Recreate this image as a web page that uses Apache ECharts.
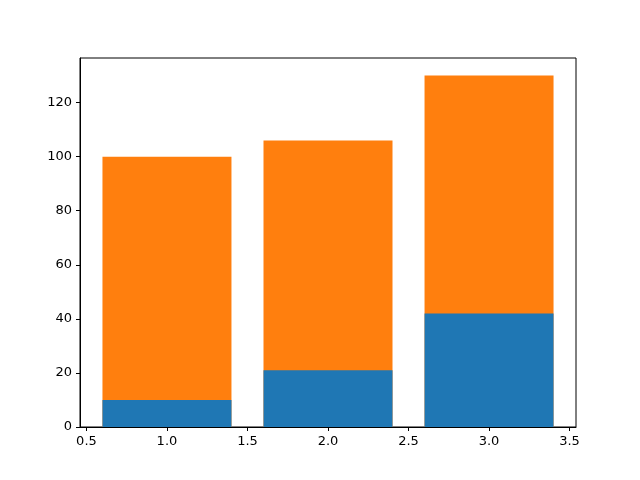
<!DOCTYPE html>
<html>
<head>
<meta charset="utf-8">
<script src="https://cdn.jsdelivr.net/npm/echarts@6/dist/echarts.min.js"></script>
<style>html,body{margin:0;padding:0;background:#fff}#chart{width:640px;height:480px}</style>
</head>
<body>
<div id="chart"></div>
<script>
const positions = [1, 2, 3];
const bottomValues = [10, 21, 42];
const topValues = [90, 85, 88];
const xTicks = [0.5, 1.0, 1.5, 2.0, 2.5, 3.0, 3.5];
const yTicks = [0, 20, 40, 60, 80, 100, 120];

const chart = echarts.init(document.getElementById('chart'));

const labelStyle = { color: '#000', fontFamily: 'DejaVu Sans', fontSize: 13, margin: 8 };
const tickStyle = { show: true, length: 4, lineStyle: { color: '#000' } };

// stacked totals for the upper segment; drawn first, lower segment painted over it
const totals = bottomValues.map((v, i) => v + topValues[i]);

chart.setOption({
  animation: false,
  grid: { left: 80, right: 64, top: 58, bottom: 53, show: true, borderColor: '#000', borderWidth: 1 },
  xAxis: {
    type: 'value', min: 0.46, max: 3.54,
    axisLine: { show: true, onZero: false, lineStyle: { color: '#000' } },
    splitLine: { show: false },
    axisTick: Object.assign({ customValues: xTicks }, tickStyle),
    axisLabel: Object.assign({ customValues: xTicks, formatter: v => v.toFixed(1) }, labelStyle)
  },
  yAxis: {
    type: 'value', min: 0, max: 136.5,
    axisLine: { show: true, onZero: false, lineStyle: { color: '#000' } },
    splitLine: { show: false },
    axisTick: Object.assign({ customValues: yTicks }, tickStyle),
    axisLabel: Object.assign({ customValues: yTicks }, labelStyle)
  },
  series: [
    { type: 'bar', barWidth: 129, barGap: '-100%', itemStyle: { color: '#ff7f0e' },
      data: positions.map((p, i) => [p, totals[i]]) },
    { type: 'bar', barWidth: 129, barGap: '-100%', itemStyle: { color: '#1f77b4' },
      data: positions.map((p, i) => [p, bottomValues[i]]) }
  ]
});
</script>
</body>
</html>
